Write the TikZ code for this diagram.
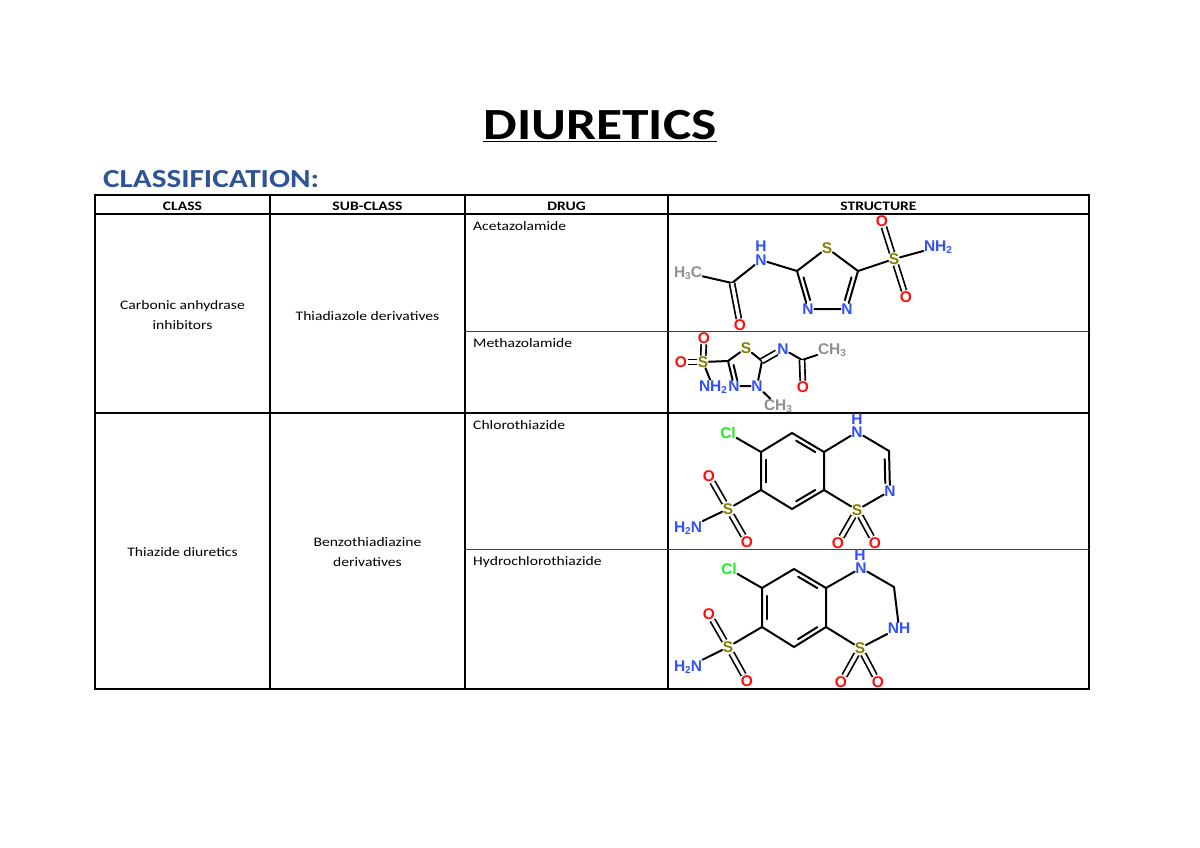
\documentclass[tikz,border=0pt]{standalone}
\usepackage{fontspec}
\setmainfont[FakeStretch=1.2]{Carlito}
\newfontfamily\atomfont{Liberation Sans}[BoldFont=Liberation Sans Bold]
\usetikzlibrary{calc}
\definecolor{headblue}{HTML}{2F5496}
\definecolor{atomS}{RGB}{128,128,0}
\definecolor{atomN}{RGB}{48,80,248}
\definecolor{atomO}{RGB}{255,13,13}
\definecolor{atomCl}{RGB}{31,240,31}
\definecolor{atomC}{RGB}{144,144,144}
\newcommand{\subs}[1]{\raisebox{-2.5pt}{\fontsize{10}{10}\selectfont #1}}
\newcommand{\inbond}[3]{\draw[bond] ($(#1)!0.2!(#2)!4.5pt!#390:(#2)$) -- ($(#2)!0.2!(#1)!4.5pt!-#390:(#1)$);}
\begin{document}
\begin{tikzpicture}
  [x=1pt, y=-1pt,
   cell/.style={font=\fontsize{13}{20}\selectfont, align=center, inner sep=0pt, text=black},
   head/.style={cell, font=\fontsize{13}{20}\selectfont\bfseries},
   atom/.style={font=\atomfont\bfseries\fontsize{15.5}{15.5}\selectfont, inner sep=0.5pt},
   satom/.style={atom, text=atomS},
   natom/.style={atom, text=atomN},
   oatom/.style={atom, text=atomO},
   clatom/.style={atom, text=atomCl},
   catom/.style={atom, text=atomC},
   heavy/.style={line width=1.5pt},
   thin rule/.style={line width=0.8pt, draw=black!75},
   bond/.style={line width=2pt, line cap=round},
   dbond/.style={line width=1.7pt, double, double distance=3.4pt}]
  \useasboundingbox (0,0) rectangle (1200,848);

  \node[font=\fontsize{44.5}{44.5}\selectfont\bfseries, inner sep=0pt] (title) at (600,126) {\underline{DIURETICS}};
  \node[font=\fontsize{26}{26}\selectfont\bfseries, text=headblue, inner sep=0pt, anchor=west] (classif) at (103,179) {CLASSIFICATION:};

  % table
  \draw[heavy] (95,195) rectangle (1089,689);
  \draw[heavy] (95,214) -- (1089,214);
  \draw[heavy] (95,413) -- (1089,413);
  \foreach \xcol in {270,465,668}
    \draw[heavy] (\xcol,195) -- (\xcol,689);
  \draw[thin rule] (465,331) -- (1089,331);
  \draw[thin rule] (465,549) -- (1089,549);

  \node[head] (hclass) at (182.5,206) {CLASS};
  \node[head] (hsub) at (367.5,206) {SUB-CLASS};
  \node[head] (hdrug) at (566.5,206) {DRUG};
  \node[head] (hstruct) at (878.5,206) {STRUCTURE};

  \node[cell] (class1) at (182.5,315.5) {Carbonic anhydrase\\inhibitors};
  \node[cell] (sub1) at (367.5,316) {Thiadiazole derivatives};
  \node[cell] (class2) at (182.5,552) {Thiazide diuretics};
  \node[cell] (sub2) at (367.5,552.5) {Benzothiadiazine\\derivatives};

  \node[cell, anchor=west] (drug1) at (473,226) {Acetazolamide};
  \node[cell, anchor=west] (drug2) at (473,343) {Methazolamide};
  \node[cell, anchor=west] (drug3) at (473,425) {Chlorothiazide};
  \node[cell, anchor=west] (drug4) at (473,562) {Hydrochlorothiazide};

  % acetazolamide
  \node[catom] (aMe) at (688,273) {H\subs{3}C};
  \coordinate (aCo) at (732,283);
  \node[oatom] (aO) at (740,325) {O};
  \node[natom] (aN) at (761,260) {N};
  \node[natom] (aH) at (761,246) {H};
  \coordinate (aC5) at (797,271);
  \node[satom] (aS) at (827,248) {S};
  \coordinate (aC2) at (858,271);
  \node[natom] (aN3) at (808,309) {N};
  \node[natom] (aN4) at (847,309) {N};
  \node[satom] (aS2) at (894,259) {S};
  \node[oatom] (aO1) at (882,221) {O};
  \node[oatom] (aO2) at (906,297) {O};
  \node[natom] (aNH) at (938,247) {NH\subs{2}};
  \draw[bond] (aMe) -- (aCo) -- (aN) -- (aC5) -- (aS) -- (aC2) -- (aS2) -- (aNH);
  \draw[bond] (aC5) -- (aN3) -- (aN4) -- (aC2);
  \draw[dbond] (aCo) -- (aO);
  \draw[dbond] (aS2) -- (aO1);
  \draw[dbond] (aS2) -- (aO2);
  \inbond{aC5}{aN3}{+}
  \inbond{aC2}{aN4}{-}

  % methazolamide
  \node[oatom] (mO1) at (704,338) {O};
  \node[oatom] (mO2) at (681,362) {O};
  \node[satom] (mS2) at (703,362) {S};
  \node[natom] (mNH) at (713,387) {NH\subs{2}};
  \coordinate (mC5) at (728,361);
  \node[satom] (mS) at (746,348) {S};
  \coordinate (mC2) at (762,361);
  \node[natom] (mN3) at (734,386) {N};
  \node[natom] (mN4) at (757,386) {N};
  \node[natom] (mNx) at (783,349) {N};
  \coordinate (mCo) at (802,360);
  \node[oatom] (mO3) at (803,387) {O};
  \node[catom] (mMe1) at (832,350) {CH\subs{3}};
  \node[catom] (mMe2) at (778,406) {CH\subs{3}};
  \draw[bond] (mNH) -- (mS2) -- (mC5) -- (mS) -- (mC2) -- (mN4) -- (mN3) -- (mC5);
  \draw[bond] (mN4) -- (mMe2);
  \draw[bond] (mNx) -- (mCo) -- (mMe1);
  \draw[dbond] (mS2) -- (mO1);
  \draw[dbond] (mS2) -- (mO2);
  \draw[dbond] (mC2) -- (mNx);
  \draw[dbond] (mCo) -- (mO3);
  \inbond{mC5}{mN3}{+}

  % chlorothiazide
  \node[clatom] (cCl) at (728,433) {Cl};
  \coordinate (cC6) at (761,452);
  \coordinate (cC5) at (792,433);
  \coordinate (cC4) at (824,452);
  \coordinate (cC8a) at (824,490);
  \coordinate (cC8) at (792,509);
  \coordinate (cC7) at (761,490);
  \node[natom] (cN) at (857,432) {N};
  \node[natom] (cH) at (857,419) {H};
  \coordinate (cC3) at (889,451);
  \node[natom] (cN2) at (890,491) {N};
  \node[satom] (cS1) at (857,510) {S};
  \node[oatom] (cO1) at (838,543) {O};
  \node[oatom] (cO2) at (875,543) {O};
  \node[satom] (cS7) at (728,509) {S};
  \node[oatom] (cO3) at (709,476) {O};
  \node[oatom] (cO4) at (747,542) {O};
  \node[natom] (cNH) at (688,528) {H\subs{2}N};
  \draw[bond] (cCl) -- (cC6) -- (cC5) -- (cC4) -- (cC8a) -- (cC8) -- (cC7) -- (cC6);
  \draw[bond] (cC4) -- (cN) -- (cC3) -- (cN2) -- (cS1) -- (cC8a);
  \draw[bond] (cC7) -- (cS7) -- (cNH);
  \draw[dbond] (cS1) -- (cO1);
  \draw[dbond] (cS1) -- (cO2);
  \draw[dbond] (cS7) -- (cO3);
  \draw[dbond] (cS7) -- (cO4);
  \inbond{cC5}{cC4}{-}
  \inbond{cC7}{cC6}{-}
  \inbond{cC8a}{cC8}{-}
  \inbond{cC3}{cN2}{-}

  % hydrochlorothiazide
  \node[clatom] (hCl) at (729,569) {Cl};
  \coordinate (hC6) at (762,588);
  \coordinate (hC5) at (794,569);
  \coordinate (hC4) at (826,588);
  \coordinate (hC8a) at (826,627);
  \coordinate (hC8) at (794,647);
  \coordinate (hC7) at (762,627);
  \node[natom] (hN) at (861,568) {N};
  \node[natom] (hH) at (860,555) {H};
  \coordinate (hC3) at (894,587);
  \node[natom] (hN2) at (899,628) {NH};
  \node[satom] (hS1) at (860,648) {S};
  \node[oatom] (hO1) at (841,682) {O};
  \node[oatom] (hO2) at (878,682) {O};
  \node[satom] (hS7) at (728,647) {S};
  \node[oatom] (hO3) at (709,614) {O};
  \node[oatom] (hO4) at (747,681) {O};
  \node[natom] (hNH) at (688,667) {H\subs{2}N};
  \draw[bond] (hCl) -- (hC6) -- (hC5) -- (hC4) -- (hC8a) -- (hC8) -- (hC7) -- (hC6);
  \draw[bond] (hC4) -- (hN) -- (hC3) -- (hN2) -- (hS1) -- (hC8a);
  \draw[bond] (hC7) -- (hS7) -- (hNH);
  \draw[dbond] (hS1) -- (hO1);
  \draw[dbond] (hS1) -- (hO2);
  \draw[dbond] (hS7) -- (hO3);
  \draw[dbond] (hS7) -- (hO4);
  \inbond{hC5}{hC4}{-}
  \inbond{hC7}{hC6}{-}
  \inbond{hC8a}{hC8}{-}
\end{tikzpicture}
\end{document}
